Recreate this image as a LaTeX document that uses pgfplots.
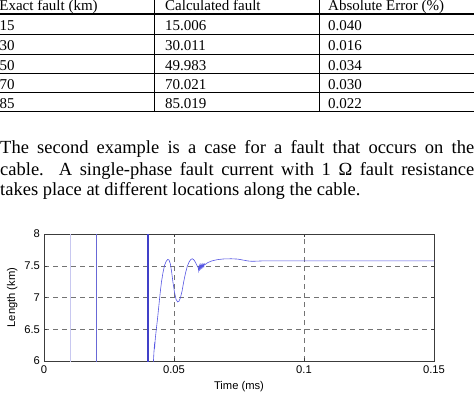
\documentclass[border=0pt]{standalone}
\usepackage{pgfplots}
\pgfplotsset{compat=1.18}
\usepackage{fontspec}
\setmainfont{Liberation Serif}
\newfontfamily\axisfont{Liberation Sans}
\definecolor{curve}{RGB}{84,84,226}
\definecolor{vlA}{RGB}{200,200,240}
\definecolor{vlB}{RGB}{104,104,214}
\definecolor{vlC}{RGB}{64,64,200}
\definecolor{frame}{RGB}{60,60,60}
\newcommand{\tf}{\fontsize{15pt}{18pt}\selectfont}
\newcommand{\pf}{\fontsize{18.5pt}{21.3pt}\selectfont}
\begin{document}
\begin{tikzpicture}[x=1pt,y=1pt]
\path[use as bounding box] (0,0) rectangle (474,392);
% ---- table ----
\draw[line width=1.1pt] (0,378) -- (474,378);
\draw[line width=0.6pt] (0,357.7) -- (474,357.7);
\draw[line width=0.6pt] (0,337.7) -- (474,337.7);
\draw[line width=0.6pt] (0,318.7) -- (474,318.7);
\draw[line width=0.6pt] (0,299.3) -- (474,299.3);
\draw[line width=1.1pt] (0,280.3) -- (474,280.3);
\draw[line width=0.6pt] (154.3,392) -- (154.3,280.3);
\draw[line width=0.6pt] (319,392) -- (319,280.3);
\begin{scope}[every node/.style={anchor=base west,inner sep=0,font=\tf}]
\node at (-0.8,381.3) {Exact fault (km)};
\node at (165,381.3) {Calculated fault};
\node at (328,381.3) {Absolute Error (\%)};
\node at (-0.5,361.3) {15};   \node at (165,361.3) {15.006}; \node at (328,361.3) {0.040};
\node at (-0.5,341.3) {30};   \node at (165,341.3) {30.011}; \node at (328,341.3) {0.016};
\node at (-0.5,322.0) {50};   \node at (165,322.0) {49.983}; \node at (328,322.0) {0.034};
\node at (-0.5,302.7) {70};   \node at (165,302.7) {70.021}; \node at (328,302.7) {0.030};
\node at (-0.5,283.7) {85};   \node at (165,283.7) {85.019}; \node at (328,283.7) {0.022};
\end{scope}
% ---- paragraph ----
\begin{scope}[every node/.style={anchor=base west,inner sep=0,font=\pf}]
\node at (0,238.7) {\makebox[474pt][s]{The second example is a case for a fault that occurs on the}};
\node at (0,217.0) {\makebox[474pt][s]{cable. A single-phase fault current with 1 Ω fault resistance}};
\node at (0,196.3) {takes place at different locations along the cable.};
\end{scope}
% ---- chart ----
\begin{axis}[
  at={(44pt,31pt)}, anchor=south west,
  scale only axis, width=390pt, height=127pt,
  xmin=0, xmax=0.15, ymin=6, ymax=8,
  xtick={0,0.05,0.1,0.15}, xticklabels={0,0.05,0.1,0.15},
  ytick={6,6.5,7,7.5,8}, yticklabels={6,6.5,7,7.5,8},
  scaled x ticks=false, scaled y ticks=false,
  tick label style={font=\axisfont\fontsize{11.2pt}{13pt}\selectfont, text=black},
  xticklabel style={yshift=-1.5pt},
  yticklabel style={xshift=-0.5pt},
  grid=major,
  major grid style={dash pattern=on 5pt off 4pt, color=black!55, line width=0.5pt},
  axis line style={color=frame, line width=0.7pt},
  tick align=inside, major tick length=3pt,
  every tick/.style={color=frame, line width=0.5pt},
  xlabel={Time (ms)}, ylabel={Length (km)},
  every axis x label/.style={at={(axis description cs:0.5,0)}, anchor=north, yshift=-16.5pt, font=\axisfont\fontsize{11.2pt}{13pt}\selectfont, text=black},
  every axis y label/.style={at={(axis description cs:-0.0813,0.5)}, rotate=90, anchor=center, font=\axisfont\fontsize{11.2pt}{13pt}\selectfont, text=black},
  clip=true,
]
\addplot[vlA, line width=0.8pt] coordinates {(0.01,5) (0.01,9)};
\addplot[vlB, line width=0.8pt] coordinates {(0.02,5) (0.02,9)};
\addplot[vlC, line width=1.3pt] coordinates {(0.04,5) (0.04,9)};
\addplot[curve, line width=0.6pt] coordinates {
(0.0418,5.8) (0.0421,6.0) (0.0423,6.15) (0.0425,6.26) (0.0426,6.23) (0.0428,6.35)
(0.0432,6.50) (0.0437,6.68) (0.0442,6.88) (0.0447,7.08) (0.0452,7.25)
(0.0458,7.40) (0.0464,7.51) (0.0470,7.57) (0.0476,7.60) (0.0481,7.59)
(0.0486,7.53) (0.0491,7.40) (0.0496,7.24) (0.0502,7.08) (0.0508,6.97)
(0.0514,6.93) (0.0519,6.94) (0.0525,7.00) (0.0531,7.10) (0.0537,7.24)
(0.0544,7.38) (0.0551,7.49) (0.0558,7.56) (0.0565,7.60) (0.0571,7.61)
(0.0577,7.59) (0.0583,7.55) (0.0589,7.50) (0.0593,7.47)
(0.0595,7.42) (0.0597,7.50) (0.0599,7.45) (0.0601,7.51) (0.0603,7.46)
(0.0605,7.51) (0.0607,7.47) (0.0609,7.52) (0.0611,7.48) (0.0613,7.52)
(0.0615,7.49) (0.0617,7.53) (0.0620,7.52) (0.0630,7.55) (0.0645,7.575)
(0.0665,7.595) (0.0690,7.607) (0.0720,7.61) (0.0745,7.605) (0.0765,7.59)
(0.0785,7.575) (0.0800,7.57) (0.0815,7.572) (0.0850,7.578) (0.1000,7.578)
(0.1500,7.578)
};
\end{axis}
\end{tikzpicture}
\end{document}
